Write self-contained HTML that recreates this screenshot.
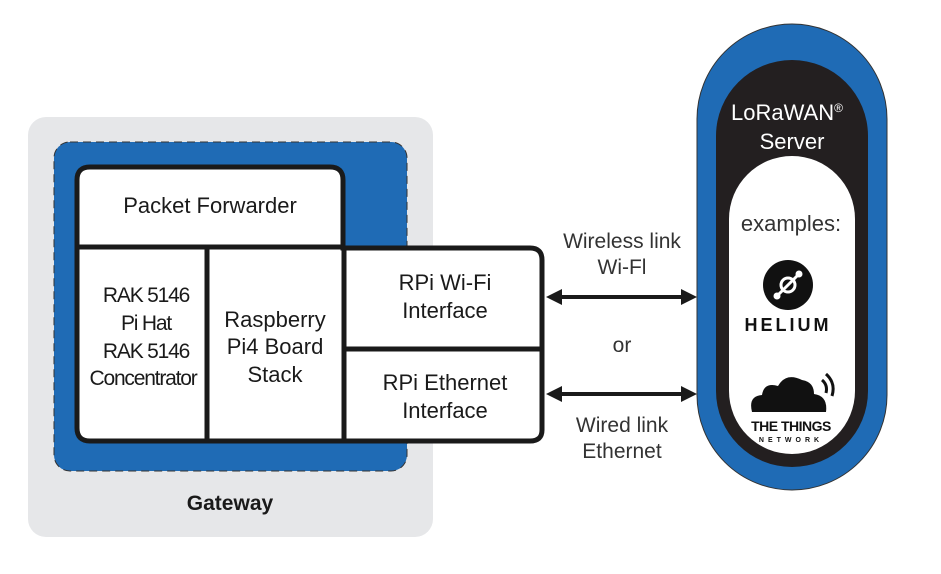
<!DOCTYPE html>
<html><head><meta charset="utf-8"><style>
body{margin:0;background:#fff}
svg{display:block}
text{font-family:"Liberation Sans",sans-serif}
</style></head><body>
<svg width="941" height="574" viewBox="0 0 941 574" xmlns="http://www.w3.org/2000/svg">
<rect x="28" y="117" width="405" height="420" rx="18" fill="#e6e7e9"/>
<rect x="54" y="142" width="353" height="329" rx="16" fill="#1f6bb5" stroke="#333" stroke-width="1" stroke-dasharray="8 5"/>
<path d="M77 180 Q77 167 90 167 L330 167 Q343 167 343 180 L343 248 L530 248 Q542 248 542 260 L542 430 Q542 441 530 441 L90 441 Q77 441 77 428 Z" fill="#fff" stroke="#1a1a1a" stroke-width="5"/>
<line x1="77" y1="247" x2="343" y2="247" stroke="#1a1a1a" stroke-width="5"/>
<line x1="207" y1="247" x2="207" y2="441" stroke="#1a1a1a" stroke-width="5"/>
<line x1="344" y1="247" x2="344" y2="441" stroke="#1a1a1a" stroke-width="5"/>
<line x1="344" y1="349" x2="542" y2="349" stroke="#1a1a1a" stroke-width="5"/>
<g fill="#1a1a1a" font-size="22" text-anchor="middle">
<text x="210" y="213">Packet Forwarder</text>
<text x="146" y="302" font-size="21" letter-spacing="-1.2">RAK 5146</text>
<text x="146" y="330" font-size="21" letter-spacing="-1.2">Pi Hat</text>
<text x="146" y="358" font-size="21" letter-spacing="-1.2">RAK 5146</text>
<text x="143" y="385" font-size="21" letter-spacing="-1.2">Concentrator</text>
<text x="275" y="327">Raspberry</text>
<text x="275" y="354">Pi4 Board</text>
<text x="275" y="382">Stack</text>
<text x="445" y="290">RPi Wi-Fi</text>
<text x="445" y="318">Interface</text>
<text x="445" y="390">RPi Ethernet</text>
<text x="445" y="418">Interface</text>
<text x="230" y="510" font-weight="bold" font-size="21">Gateway</text>
</g>
<g stroke="#1a1a1a" stroke-width="4" fill="#1a1a1a">
<line x1="558" y1="297" x2="684" y2="297"/>
<line x1="558" y1="394" x2="684" y2="394"/>
</g>
<g fill="#1a1a1a">
<polygon points="546,297 562,289 562,305"/>
<polygon points="697,297 681,289 681,305"/>
<polygon points="546,394 562,386 562,402"/>
<polygon points="697,394 681,386 681,402"/>
</g>
<g fill="#333" font-size="21" text-anchor="middle">
<text x="622" y="248">Wireless link</text>
<text x="622" y="274">Wi-Fl</text>
<text x="622" y="352">or</text>
<text x="622" y="432">Wired link</text>
<text x="622" y="458">Ethernet</text>
</g>
<rect x="697" y="24" width="190" height="466" rx="95" fill="#1f6bb5" stroke="#333" stroke-width="1"/>
<rect x="716" y="60" width="152" height="407" rx="76" fill="#231f20"/>
<rect x="729" y="156" width="126" height="298" rx="63" fill="#fff"/>
<g fill="#fff" font-size="22" text-anchor="middle">
<text x="787" y="120">LoRaWAN<tspan font-size="12" dy="-8">®</tspan></text>
<text x="792" y="149">Server</text>
</g>
<text x="791" y="231" font-size="22" fill="#333" text-anchor="middle">examples:</text>
<circle cx="788" cy="285" r="25" fill="#111"/>
<g stroke="#fff" stroke-width="3" fill="none">
<circle cx="788" cy="285" r="7"/>
<line x1="779" y1="294" x2="797" y2="276"/>
</g>
<circle cx="799" cy="274" r="3.5" fill="#fff"/><circle cx="777" cy="296" r="3.5" fill="#fff"/>
<text x="788" y="331" font-size="18" font-weight="bold" fill="#111" text-anchor="middle" letter-spacing="3">HELIUM</text>
<path d="M752 412 Q748 396 762 395 Q764 382 778 386 Q786 372 802 380 Q814 382 814 394 Q828 396 826 412 Z" fill="#111"/>
<path d="M822 380 Q828 385 826 393 M826 374 Q836 383 832 396" stroke="#111" stroke-width="3" fill="none"/>
<text x="791" y="431" font-size="14" font-weight="bold" fill="#111" text-anchor="middle" letter-spacing="-0.5">THE THINGS</text>
<text x="791" y="442" font-size="7" font-weight="bold" fill="#111" text-anchor="middle" letter-spacing="4">NETWORK</text>
</svg>
</body></html>
